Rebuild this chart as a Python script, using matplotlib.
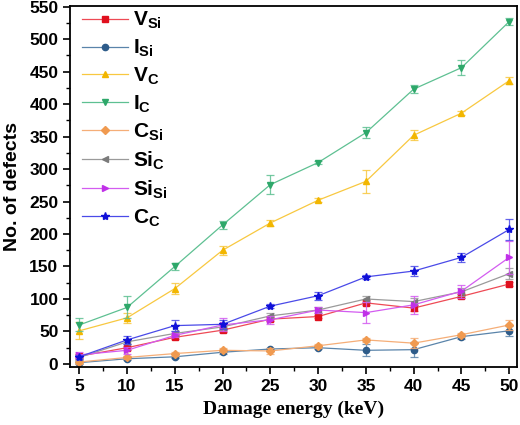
import matplotlib
matplotlib.use("Agg")
import matplotlib.pyplot as plt
from matplotlib.ticker import MultipleLocator

plt.rcParams["font.family"] = ["Liberation Sans", "DejaVu Sans"]
plt.rcParams["font.weight"] = "bold"
plt.rcParams["mathtext.fontset"] = "custom"
plt.rcParams["mathtext.rm"] = "Liberation Sans:bold"
plt.rcParams["mathtext.it"] = "Liberation Sans:bold"
plt.rcParams["mathtext.bf"] = "Liberation Sans:bold"

# damage energy (keV)
energy = [5, 10, 15, 20, 25, 30, 35, 40, 45, 50]

v_si = [12, 25, 41, 52, 69, 73, 94, 86, 104, 123]
i_si = [2, 8, 11, 18, 23, 25, 21, 22, 42, 51]
v_c = [51, 71, 116, 175, 217, 252, 281, 352, 386, 436]
i_c = [60, 87, 150, 214, 276, 310, 356, 423, 456, 527]
c_si = [3, 10, 16, 21, 20, 28, 37, 32, 45, 60]
si_c = [10, 34, 47, 57, 74, 83, 100, 96, 111, 139]
si_si = [14, 21, 44, 60, 68, 83, 79, 91, 112, 164]
c_c = [11, 37, 59, 61, 89, 105, 134, 143, 164, 207]

# error bars
v_si_err = [3, 3, 3, 3, 3, 3, 4, 4, 3, 3]
i_si_err = [2, 2, 2, 2, 2, 2, 9, 12, 3, 8]
v_c_err = [13, 8, 8, 7, 5, 3, 18, 8, 3, 5]
i_c_err = [10, 17, 6, 6, 15, 3, 8, 6, 12, 6]
c_si_err = [3, 3, 3, 3, 5, 3, 3, 8, 3, 8]
si_c_err = [4, 4, 4, 5, 5, 4, 5, 6, 6, 8]
si_si_err = [4, 5, 3, 10, 6, 4, 16, 14, 10, 25]
c_c_err = [3, 6, 9, 7, 3, 6, 3, 8, 7, 16]

labels = [r"$\mathrm{V_{Si}}$", r"$\mathrm{I_{Si}}$", r"$\mathrm{V_{C}}$", r"$\mathrm{I_{C}}$",
          r"$\mathrm{C_{Si}}$", r"$\mathrm{Si_{C}}$", r"$\mathrm{Si_{Si}}$", r"$\mathrm{C_{C}}$"]
series = [v_si, i_si, v_c, i_c, c_si, si_c, si_si, c_c]
errs = [v_si_err, i_si_err, v_c_err, i_c_err, c_si_err, si_c_err, si_si_err, c_c_err]
line_cols = ["#EE4A55", "#5A84AA", "#F8C840", "#5EC092", "#F5AE78", "#9A9A9A", "#D35CF0", "#4A4AE8"]
mark_cols = ["#E0101E", "#2E5C8A", "#F2B600", "#2EA86A", "#F09A50", "#7A7A7A", "#C030E8", "#1010D8"]
markers = ["s", "o", "^", "v", "D", "<", ">", "*"]
msizes = [4.5, 4.5, 5, 5, 4, 5, 5, 6]

fig = plt.figure(figsize=(5.2, 4.25), dpi=100)
ax = fig.add_axes([0.135, 0.136, 0.859, 0.85])

for y, e, lab, lc, mc, mk, ms in zip(series, errs, labels, line_cols, mark_cols, markers, msizes):
    ax.errorbar(energy, y, yerr=e, fmt="none", ecolor=lc, elinewidth=0.9, capsize=3, capthick=0.9, alpha=0.85)
    ax.plot(energy, y, color=lc, lw=0.9, marker=mk, ms=ms, mfc=mc, mec=mc, label=lab)

ax.set_xlim(4.05, 50.8)
ax.set_ylim(-5, 551)
ax.xaxis.set_major_locator(MultipleLocator(5))
ax.xaxis.set_minor_locator(MultipleLocator(2.5))
ax.yaxis.set_major_locator(MultipleLocator(50))
ax.yaxis.set_minor_locator(MultipleLocator(25))
ax.tick_params(which="major", direction="out", length=5, width=1.2, labelsize=12.5)
ax.tick_params(which="minor", direction="out", length=3, width=1.0)
for lbl in ax.get_xticklabels() + ax.get_yticklabels():
    lbl.set_fontweight("bold")
for s in ax.spines.values():
    s.set_linewidth(1.3)

ax.set_xlabel("Damage energy (keV)", family="Liberation Serif", fontsize=14, weight="bold", labelpad=5)
ax.set_ylabel("No. of defects", fontsize=14, weight="bold", labelpad=6)

ax.legend(loc="upper left", frameon=False, fontsize=15, handlelength=2.2, handletextpad=0.25,
          labelspacing=0.32, borderaxespad=0, borderpad=0.1, bbox_to_anchor=(0.022, 0.995))

fig.savefig("out.png", dpi=100)
